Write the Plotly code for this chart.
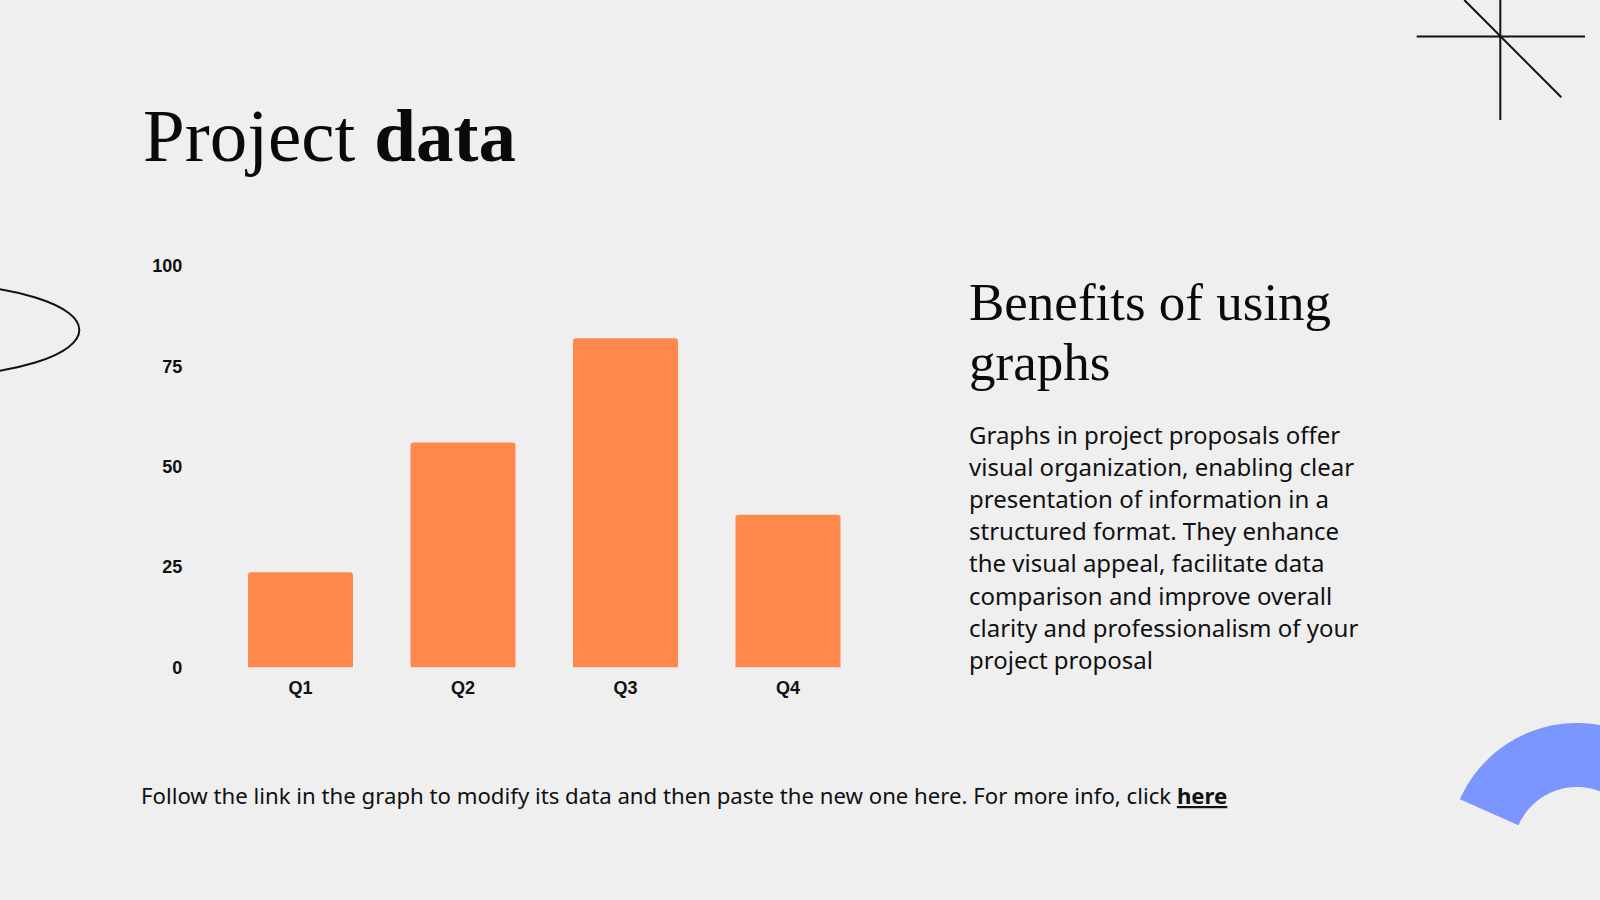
import numpy as np
import plotly.graph_objects as go

# ---- data ----
categories = ["Q1", "Q2", "Q3", "Q4"]
values = [23.7, 56, 82, 38]
y_ticks = [0, 25, 50, 75, 100]

title_regular = "Project "
title_bold = "data"
side_heading = ["Benefits of using", "graphs"]
body_lines = [
    "Graphs in project proposals offer",
    "visual organization, enabling clear",
    "presentation of information in a",
    "structured format. They enhance",
    "the visual appeal, facilitate data",
    "comparison and improve overall",
    "clarity and professionalism of your",
    "project proposal",
]
footer_text = "Follow the link in the graph to modify its data and then paste the new one here. For more info, click "
footer_link = "here"

W, H = 1600, 900
BG = "#EFEFEF"
ORANGE = "#FF884D"
BLUE = "#7B96FF"


def px(x):
    return x / W


def py(y):
    return 1 - y / H


fig = go.Figure()
fig.add_trace(go.Bar(
    x=categories, y=values,
    marker=dict(color=ORANGE, line=dict(width=0), cornerradius=3),
    width=0.646,
    hoverinfo="x+y",
))

fig.update_layout(
    width=W, height=H,
    margin=dict(l=0, r=0, t=0, b=0, pad=0, autoexpand=False),
    paper_bgcolor=BG, plot_bgcolor=BG,
    showlegend=False,
    xaxis=dict(
        domain=[px(219.25), px(869.25)],
        range=[-0.5, 3.5],
        automargin=False,
        showgrid=False, zeroline=False, showline=False, ticks="",
        tickfont=dict(family="Liberation Sans", size=18, color="#111111", weight="bold"),
        ticklabelstandoff=8,
    ),
    yaxis=dict(
        domain=[py(667.4), py(266)],
        range=[0, 100],
        automargin=False,
        tickvals=y_ticks,
        ticktext=[str(v) for v in y_ticks],
        showgrid=False, zeroline=False, showline=False, ticks="",
        tickfont=dict(family="Liberation Sans", size=18, color="#111111", weight="bold"),
        ticklabelstandoff=36,
    ),
)

annotations = []
# Title
annotations.append(dict(
    x=px(141), y=py(135.5), xref="paper", yref="paper", xanchor="left", yanchor="middle",
    text=title_regular + "<b>" + title_bold + "</b>", showarrow=False,
    font=dict(family="Liberation Serif", size=75, color="#0a0a0a"),
))
# Side heading
for i, line in enumerate(side_heading):
    annotations.append(dict(
        x=px(967), y=py(302 + 60 * i), xref="paper", yref="paper", xanchor="left", yanchor="middle",
        text=line, showarrow=False,
        font=dict(family="Liberation Serif", size=53, color="#0a0a0a"),
    ))
# Body
for i, line in enumerate(body_lines):
    annotations.append(dict(
        x=px(967), y=py(434.5 + 32.1 * i), xref="paper", yref="paper", xanchor="left", yanchor="middle",
        text=line, showarrow=False,
        font=dict(family="Noto Sans", size=24, color="#111111"),
    ))
# Footer
annotations.append(dict(
    x=px(139), y=py(795), xref="paper", yref="paper", xanchor="left", yanchor="middle",
    text=footer_text + "<b><u>" + footer_link + "</u></b>", showarrow=False,
    font=dict(family="Noto Sans", size=22.2, color="#111111"),
))
fig.update_layout(annotations=annotations)

shapes = []
# star lines top-right
for (x0, y0, x1, y1) in [(1416.7, 36.5, 1585, 36.5), (1500.3, 0, 1500.3, 120), (1464.3, 0, 1561.3, 97.3)]:
    shapes.append(dict(type="line", xref="paper", yref="paper",
                       x0=px(x0), y0=py(y0), x1=px(x1), y1=py(y1),
                       line=dict(color="#111111", width=2)))
# ellipse left
shapes.append(dict(type="circle", xref="paper", yref="paper",
                   x0=px(-221), x1=px(79.3), y0=py(376), y1=py(284),
                   line=dict(color="#111111", width=2)))
# blue arc band bottom-right
cx, cy, r_in, r_out = 1577, 851, 64, 128
th = np.radians(np.linspace(156.2, -10, 80))
outer = [(cx + r_out * np.cos(t), cy - r_out * np.sin(t)) for t in th]
inner = [(cx + r_in * np.cos(t), cy - r_in * np.sin(t)) for t in th[::-1]]
pts = outer + inner
path = "M " + " L ".join(f"{px(x):.5f},{py(y):.5f}" for x, y in pts) + " Z"
shapes.append(dict(type="path", xref="paper", yref="paper", path=path,
                   fillcolor=BLUE, line=dict(width=0)))
fig.update_layout(shapes=shapes)

fig.write_html("out.html")
